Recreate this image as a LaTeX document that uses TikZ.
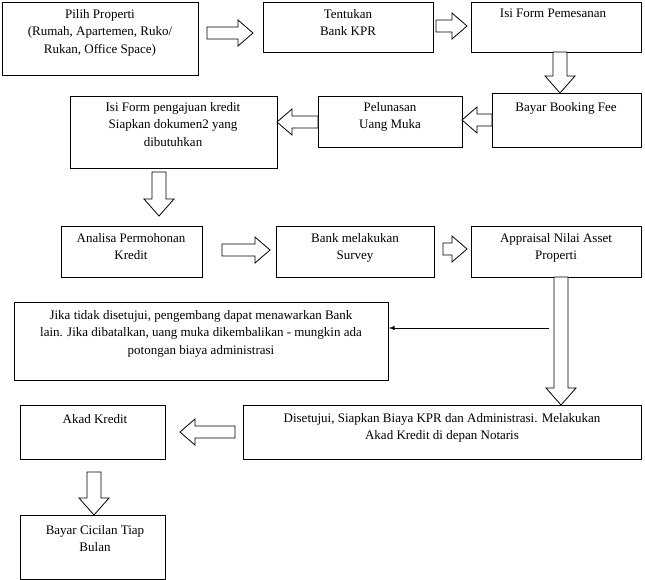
\documentclass[tikz,border=0pt]{standalone}
\usepackage{fontspec}
\setmainfont{Liberation Serif}
\begin{document}
\begin{tikzpicture}[x=1pt,y=-1pt,
  box/.style={draw,line width=0.8pt,anchor=north west,inner sep=0pt},
  txt/.style={anchor=north,align=center,font=\fontsize{13}{17.5}\selectfont,inner sep=0pt},
  blk/.style={draw,line width=0.8pt,fill=white}]
\useasboundingbox (0,0) rectangle (645,579);
\newcommand\bx[5]{\node[box,minimum width=#3,minimum height=#4] (#5) at (#1,#2) {};}
\newcommand\ar[3]{\draw[blk] (#1,#3-6)--(#2-15,#3-6)--(#2-15,#3-13)--(#2,#3)--(#2-15,#3+13)--(#2-15,#3+6)--(#1,#3+6)--cycle;}
\newcommand\al[3]{\draw[blk] (#1,#3-6)--(#2+15,#3-6)--(#2+15,#3-13)--(#2,#3)--(#2+15,#3+13)--(#2+15,#3+6)--(#1,#3+6)--cycle;}
\newcommand\ad[3]{\draw[blk] (#3-7,#1)--(#3-7,#2-17)--(#3-15,#2-17)--(#3,#2)--(#3+15,#2-17)--(#3+7,#2-17)--(#3+7,#1)--cycle;}
\bx{2}{2}{196}{73}{b1}
\bx{263}{2}{170}{50}{b2}
\bx{471}{2}{170}{50}{b3}
\bx{492}{93}{149}{54}{b4}
\bx{318}{96}{144}{51}{b5}
\bx{70}{96}{207}{72}{b6}
\bx{61}{226}{141}{51}{b7}
\bx{276}{226}{158}{51}{b8}
\bx{471}{226}{170}{51}{b9}
\bx{14}{302}{374}{78}{b10}
\bx{243}{405}{398}{54}{b11}
\bx{20}{405}{145}{54}{b12}
\bx{20}{515}{145}{64}{b13}
\node[txt] (t1) at (100,9) {Pilih Properti\\(Rumah, Apartemen, Ruko/\\Rukan, Office Space)};
\node[txt] (t2) at (348,9) {Tentukan\\Bank KPR};
\node[txt] (t3) at (553,9) {Isi Form Pemesanan};
\node[txt] (t4) at (566,102) {Bayar Booking Fee};
\node[txt] (t5) at (390,102) {Pelunasan\\Uang Muka};
\node[txt] (t6) at (173,102) {Isi Form pengajuan kredit\\Siapkan dokumen2 yang\\dibutuhkan};
\node[txt] (t7) at (131,233) {Analisa Permohonan\\Kredit};
\node[txt] (t8) at (355,233) {Bank melakukan\\Survey};
\node[txt] (t9) at (556,233) {Appraisal Nilai Asset\\Properti};
\node[txt] (t10) at (201,310) {Jika tidak disetujui, pengembang dapat menawarkan Bank\\lain. Jika dibatalkan, uang muka dikembalikan - mungkin ada\\potongan biaya administrasi};
\node[txt] (t11) at (442,413) {Disetujui, Siapkan Biaya KPR dan Administrasi. Melakukan\\Akad Kredit di depan Notaris};
\node[txt] (t12) at (95,414) {Akad Kredit};
\node[txt] (t13) at (95,525) {Bayar Cicilan Tiap\\Bulan};
\ar{207}{253}{33}
\ar{436}{467}{26}
\ad{52}{93}{560}
\al{492}{462}{120}
\al{318}{277}{122}
\ad{172}{216}{159}
\ar{222}{270}{250}
\ar{443}{467}{249}
\ad{277}{405}{561}
\al{235}{180}{432}
\ad{472}{515}{94}
\coordinate (s) at (549,328);
\draw[-latex,line width=1pt] (s) -- (b10.east |- s);
\end{tikzpicture}
\end{document}
